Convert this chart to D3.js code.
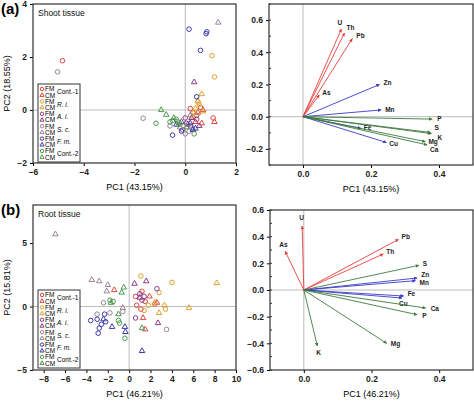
<!DOCTYPE html>
<html><head><meta charset="utf-8">
<script src="https://cdn.jsdelivr.net/npm/d3@7"></script>
<style>body{margin:0;background:#fff}text{font-family:"Liberation Sans",Arial,sans-serif}</style>
</head><body>
<script>
const groups = ['Cont.-1', 'R. i.', 'A. i.', 'S. c.', 'F. m.', 'Cont.-2'];
const groupColors = ['#d9473f', '#e0a030', '#8b3a8b', '#9a8498', '#3b3bab', '#4c9a4c'];

// score points: [groupIndex, type(0=FM,1=CM), pc1, pc2]
const scoresA = [
  [0,0,-4.84,1.86],[0,0,1.1,-0.3],[0,0,0.3,-0.1],[0,0,0.2,0.05],[0,0,0.45,-0.2],[0,0,0.6,0.1],
  [0,1,1.15,-0.45],[0,1,0.65,-0.5],[0,1,0.4,-0.45],[0,1,0.7,0.0],[0,1,0.5,-0.1],
  [1,0,1.05,2.05],[1,0,1.15,1.25],[1,0,0.5,0.3],[1,0,0.35,-0.1],[1,0,0.55,0.2],
  [1,1,0.65,0.6],[1,1,0.5,0.35],[1,1,0.7,-0.05],[1,1,0.3,-0.25],[1,1,0.4,0.05],
  [2,0,0.05,-0.5],[2,0,-0.1,-0.75],[2,0,0.2,-0.6],[2,0,0.45,-0.35],[2,0,0.0,-0.3],
  [2,1,0.35,1.05],[2,1,-0.15,-0.45],[2,1,0.1,-0.55],[2,1,0.55,-0.6],[2,1,0.25,-0.3],
  [3,0,-5.03,1.44],[3,0,-1.66,-0.31],[3,0,-0.6,-0.6],[3,0,0.0,-0.9],[3,0,0.15,-0.8],[3,0,-0.3,-0.45],
  [3,1,1.3,3.3],[3,1,0.3,-0.7],[3,1,0.2,-0.2],[3,1,-0.2,-0.65],
  [4,0,0.15,3.05],[4,0,0.85,2.95],[4,0,0.82,2.88],[4,0,0.6,2.25],[4,0,0.45,0.5],[4,0,-0.5,-0.95],[4,0,-0.15,-0.8],
  [4,1,0.4,-0.7],[4,1,0.2,-0.5],[4,1,-0.35,-0.55],[4,1,0.3,-0.75],
  [5,0,-1.15,-0.5],[5,0,-0.5,-0.4],[5,0,-0.35,-0.35],[5,0,-0.6,-0.45],[5,0,-0.25,-0.55],[5,0,0.35,-0.9],
  [5,1,-0.95,0.0],[5,1,-0.75,-0.18],[5,1,-0.45,-0.3],[5,1,-0.2,-0.5],[5,1,0.05,-0.65]
];
const scoresB = [
  [0,0,1.2,1.2],[0,0,0.6,0.8],[0,0,1.5,0.4],[0,0,0.7,0.1],[0,0,2.4,0.2],[0,0,1.1,-0.2],
  [0,1,-1.4,1.3],[0,1,1.9,0.8],[0,1,1.3,-0.9],[0,1,1.5,-1.8],[0,1,2.6,0.3],
  [1,0,1.1,2.4],[1,0,4.0,1.9],[1,0,2.8,1.1],[1,0,1.4,-0.3],[1,0,1.8,0.1],[1,0,3.4,-0.2],
  [1,1,8.2,1.85],[1,1,5.6,-0.1],[1,1,2.8,-0.5],[1,1,3.3,0.1],[1,1,2.4,0.3],
  [2,0,1.0,1.0],[2,0,1.4,0.8],[2,0,2.6,1.4],[2,0,0.6,-0.9],[2,0,1.2,0.5],
  [2,1,1.6,2.0],[2,1,0.5,1.8],[2,1,2.7,-1.3],[2,1,1.0,0.7],
  [3,0,-2.4,0.3],[3,0,-3.0,-0.6],[3,0,-1.8,-0.5],[3,0,3.5,-1.8],[3,0,-0.6,-0.4],
  [3,1,-6.9,5.7],[3,1,-3.5,2.1],[3,1,-2.8,2.0],[3,1,-2.0,1.7],[3,1,-2.1,1.2],[3,1,-0.6,-0.1],
  [4,0,-3.6,-1.1],[4,0,-3.0,-1.0],[4,0,-2.9,-2.1],[4,0,-2.8,-1.7],[4,0,-2.3,-0.6],[4,0,-2.2,-1.2],[4,0,-2.6,-1.4],
  [4,1,1.2,-3.5],[4,1,-0.4,-1.6],[4,1,-0.35,-2.0],[4,1,-1.6,-1.6],[4,1,-2.4,-1.0],
  [5,0,-1.8,0.5],[5,0,-1.0,-1.1],[5,0,-0.4,-2.5],[5,0,-0.9,-1.3],[5,0,-1.5,0.4],
  [5,1,-0.5,1.5],[5,1,-0.7,1.1],[5,1,-1.7,0.3],[5,1,-1.0,-0.6],[5,1,1.2,-1.7]
];

// loadings: [element, colorIndex(0 red,1 blue,2 green), pc1, pc2]
const loadingsA = [
  ['U',0,0.113,0.545],['Th',0,0.122,0.52],['Pb',0,0.145,0.485],['As',0,0.048,0.135],
  ['Zn',1,0.225,0.2],['Mn',1,0.23,0.042],['Fe',1,0.17,-0.072],['Cu',1,0.245,-0.16],
  ['P',2,0.38,-0.015],['S',2,0.375,-0.098],['K',2,0.378,-0.105],['Mg',2,0.36,-0.155],['Ca',2,0.365,-0.175]
];
const loadingsB = [
  ['U',0,-0.005,0.48],['As',0,-0.055,0.29],['Pb',0,0.28,0.38],['Th',0,0.235,0.27],
  ['Zn',1,0.335,0.09],['Mn',1,0.33,0.07],['Fe',1,0.295,-0.045],['Cu',1,0.29,-0.06],
  ['S',2,0.34,0.185],['Ca',2,0.36,-0.135],['P',2,0.335,-0.185],['Mg',2,0.245,-0.4],['K',2,0.04,-0.42]
];
const arrowColors = ['#e8413c', '#3b3bc8', '#3e7a3e'];
// label offsets per element [dx, dy] relative to arrow tip
const labelOffA = {U:[-4,-4],Th:[2,-3],Pb:[4,-1],As:[3,0],Zn:[4,0],Mn:[4,2],Fe:[3,2],Cu:[3,4],P:[5,2],S:[4,-2],K:[6,6],Mg:[3,2],Ca:[3,7]};
const labelOffB = {U:[-3,-6],As:[-6,-4],Pb:[3,0],Th:[3,0],S:[4,1],Zn:[4,-1],Mn:[4,4],Fe:[4,0],Cu:[-3,8],Ca:[5,3],P:[5,3],Mg:[4,3],K:[-1,9]};

const W = 474, H = 402;
const svg = d3.select('body').append('svg').attr('width', W).attr('height', H);

const defs = svg.append('defs');
arrowColors.forEach((c, i) => {
  defs.append('marker').attr('id', 'ar' + i).attr('viewBox', '0 0 10 10').attr('refX', 9).attr('refY', 5)
    .attr('markerWidth', 4).attr('markerHeight', 4).attr('orient', 'auto')
    .append('path').attr('d', 'M0,0L10,5L0,10z').attr('fill', c);
});

function frame(g, x, y, xTicks, yTicks, fmt) {
  const [x0, x1] = x.range(), [y0, y1] = y.range();
  g.append('line').attr('x1', x(0)).attr('x2', x(0)).attr('y1', y0).attr('y2', y1).attr('stroke', '#bbb');
  g.append('line').attr('x1', x0).attr('x2', x1).attr('y1', y(0)).attr('y2', y(0)).attr('stroke', '#bbb');
  const xa = g.append('g').attr('transform', `translate(0,${y0})`)
    .call(d3.axisBottom(x).tickValues(xTicks).tickFormat(fmt).tickSize(3).tickSizeOuter(0));
  const ya = g.append('g').attr('transform', `translate(${x0},0)`)
    .call(d3.axisLeft(y).tickValues(yTicks).tickFormat(fmt).tickSize(3).tickSizeOuter(0));
  [xa, ya].forEach(a => {
    a.attr('font-family', null).attr('font-size', null);
    a.select('.domain').remove();
    a.selectAll('text').attr('font-size', 8.5).attr('font-weight', 'bold').attr('fill', '#222');
  });
  g.append('rect').attr('x', x0).attr('y', y1).attr('width', x1 - x0).attr('height', y0 - y1)
    .attr('fill', 'none').attr('stroke', '#333').attr('stroke-width', 1.2);
}

function symbol(g, gi, t, px, py, s = 1) {
  const c = groupColors[gi];
  if (t === 0) g.append('circle').attr('cx', px).attr('cy', py).attr('r', 2.3 * s).attr('fill', 'none').attr('stroke', c).attr('stroke-width', 1);
  else g.append('path').attr('d', d3.symbol(d3.symbolTriangle, 13 * s * s)()).attr('transform', `translate(${px},${py})`)
    .attr('fill', 'none').attr('stroke', c).attr('stroke-width', 1);
}

function scorePlot(data, xd, yd, box, xTicks, yTicks, title, label, ylab, xlab, leg) {
  const g = svg.append('g');
  const x = d3.scaleLinear().domain(xd).range([box[0], box[1]]);
  const y = d3.scaleLinear().domain(yd).range([box[3], box[2]]);
  frame(g, x, y, xTicks, yTicks, d3.format('d'));
  data.forEach(d => symbol(g, d[0], d[1], x(d[2]), y(d[3])));
  g.append('text').attr('x', box[0] + 5).attr('y', box[2] + 12).attr('font-size', 8.5).attr('fill', '#111').text(title);
  g.append('text').attr('x', 1).attr('y', box[2] + 10).attr('font-size', 15).attr('font-weight', 'bold').text(label);
  g.append('text').attr('transform', `translate(10,${(box[2] + box[3]) / 2}) rotate(-90)`).attr('text-anchor', 'middle')
    .attr('font-size', 9).text(ylab);
  g.append('text').attr('x', (box[0] + box[1]) / 2).attr('y', box[3] + 27).attr('text-anchor', 'middle').attr('font-size', 9).text(xlab);
  // legend
  const lg = g.append('g');
  lg.append('rect').attr('x', leg[0]).attr('y', leg[1]).attr('width', 42).attr('height', 78)
    .attr('fill', '#fff').attr('stroke', '#333').attr('stroke-width', 1);
  groups.forEach((name, gi) => {
    [0, 1].forEach(t => {
      const ry = leg[1] + 5 + (gi * 2 + t) * 6.2;
      symbol(lg, gi, t, leg[0] + 4, ry, 0.75);
      lg.append('text').attr('x', leg[0] + 7).attr('y', ry + 2.4).attr('font-size', 6.5).text(t ? 'CM' : 'FM');
    });
    lg.append('text').attr('x', leg[0] + 19).attr('y', leg[1] + 5 + gi * 12.4 + 5.4).attr('font-size', 6.5)
      .attr('font-style', gi > 0 && gi < 5 ? 'italic' : 'normal').text(name);
  });
}

function loadPlot(data, yd, box, yTicks, xlab, offs) {
  const g = svg.append('g');
  const x = d3.scaleLinear().domain([-0.1, 0.5]).range([box[0], box[1]]);
  const y = d3.scaleLinear().domain(yd).range([box[3], box[2]]);
  frame(g, x, y, [0, 0.2, 0.4], yTicks, d3.format('.1f'));
  const minor = d3.range(yd[0], yd[1] + 1e-9, 0.1).map(v => +v.toFixed(2));
  g.selectAll(null).data(minor).enter().append('line')
    .attr('x1', box[0]).attr('x2', box[0] + 2).attr('y1', d => y(d)).attr('y2', d => y(d)).attr('stroke', '#333');
  data.forEach(d => {
    g.append('line').attr('x1', x(0)).attr('y1', y(0)).attr('x2', x(d[2])).attr('y2', y(d[3]))
      .attr('stroke', arrowColors[d[1]]).attr('stroke-width', 0.9).attr('marker-end', `url(#ar${d[1]})`);
    const o = offs[d[0]];
    g.append('text').attr('x', x(d[2]) + o[0]).attr('y', y(d[3]) + o[1]).attr('font-size', 6.5)
      .attr('font-weight', 'bold').attr('fill', '#222').text(d[0]);
  });
  g.append('text').attr('x', (box[0] + box[1]) / 2).attr('y', box[3] + 27).attr('text-anchor', 'middle').attr('font-size', 9).text(xlab);
}

scorePlot(scoresA, [-6, 2], [-2, 4], [33, 236, 4, 163], [-6, -4, -2, 0, 2], [-2, 0, 2, 4],
  'Shoot tissue', '(a)', 'PC2 (18.55%)', 'PC1 (43.15%)', [38, 84]);
scorePlot(scoresB, [-9, 10], [-5, 8], [33, 236, 205, 370], [-8, -6, -4, -2, 0, 2, 4, 6, 8, 10], [-5, 0, 5],
  'Root tissue', '(b)', 'PC2 (15.81%)', 'PC1 (46.21%)', [38, 290]);
loadPlot(loadingsA, [-0.3, 0.7], [269, 473, 4, 165], [-0.2, 0, 0.2, 0.4, 0.6], 'PC1 (43.15%)', labelOffA);
loadPlot(loadingsB, [-0.6, 0.6], [270, 473, 210, 370], [-0.6, -0.4, -0.2, 0, 0.2, 0.4, 0.6], 'PC1 (46.21%)', labelOffB);
</script>
</body></html>
